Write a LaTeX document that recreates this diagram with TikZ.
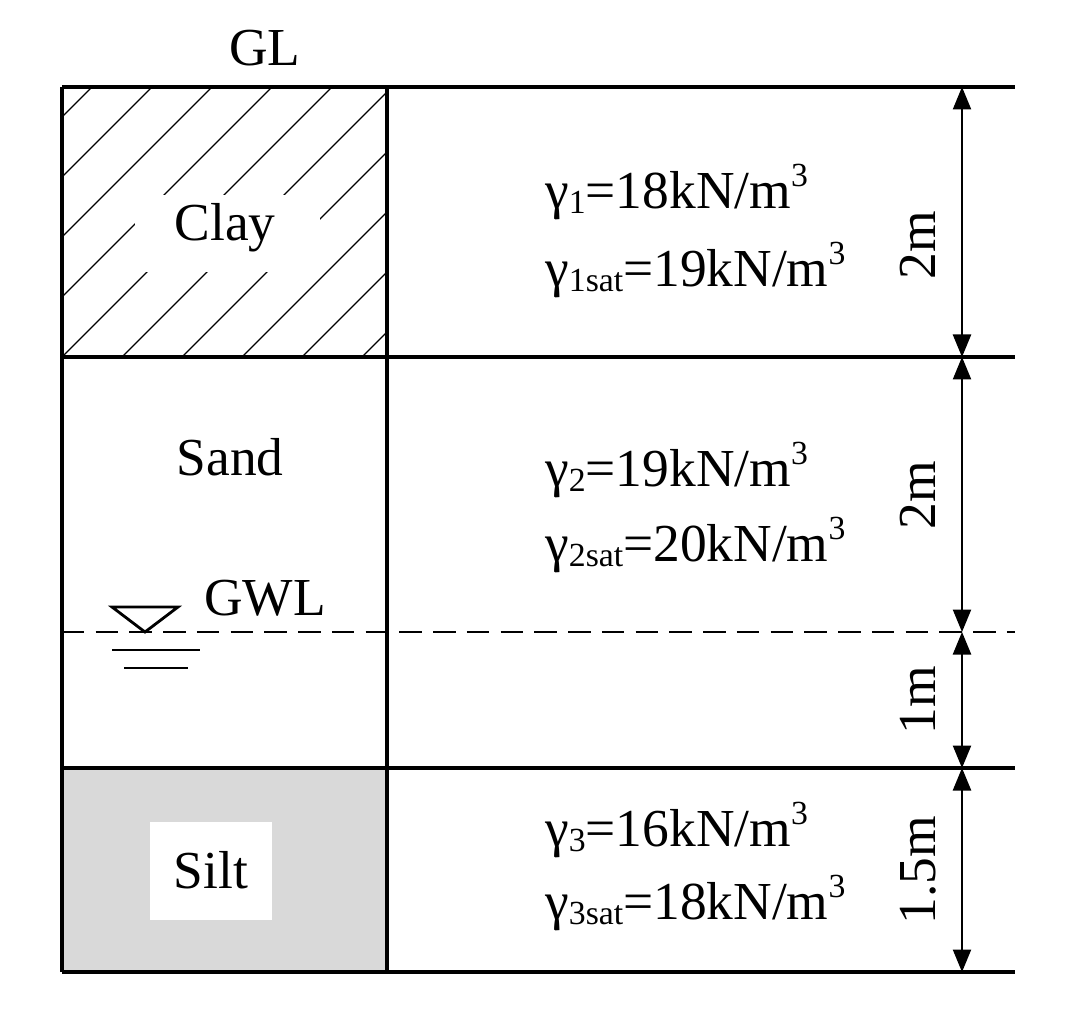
\documentclass[tikz,border=0pt]{standalone}
\usepackage{fontspec}
\setmainfont{Liberation Serif}
\usetikzlibrary{arrows.meta}
\newcommand{\sbx}[1]{\raisebox{-0.2ex}{\fontsize{24}{26}\selectfont #1}}
\newcommand{\spx}[1]{\raisebox{0.9ex}{\fontsize{24}{26}\selectfont #1}}
\begin{document}
\begin{tikzpicture}[x=0.025cm,y=-0.025cm,
  lbl/.style={font=\fontsize{38}{44}\selectfont,inner sep=0},
  gam/.style={lbl,anchor=west},
  thick line/.style={line width=2.4pt},
  dim/.style={line width=1pt,{Triangle[length=16pt,width=13pt]}-{Triangle[length=16pt,width=13pt]}}]
\useasboundingbox (0,0) rectangle (1080,1017);
\fill[gray!30] (62,768) rectangle (387,972);
\fill[white] (150,822) rectangle (272,920);
\begin{scope}
\clip (62,87) rectangle (387,357);
\foreach \i in {-300,-240,...,420} \draw[line width=1pt] (62+\i,357) -- (62+\i+270,87);
\end{scope}
\fill[white] (135,195) rectangle (320,272);
\draw[thick line] (62,87) -- (1015,87);
\draw[thick line] (62,357) -- (1015,357);
\draw[thick line] (62,768) -- (1015,768);
\draw[thick line] (62,972) -- (1015,972);
\draw[thick line] (62,87) -- (62,972);
\draw[thick line] (387,87) -- (387,972);
\draw[line width=1.8pt,dash pattern=on 16pt off 8pt] (62,632) -- (1015,632);
\coordinate (d0) at (962,87); \coordinate (d1) at (962,357);
\coordinate (d2) at (962,632); \coordinate (d3) at (962,768); \coordinate (d4) at (962,972);
\draw[dim] (d0) -- (d1); \draw[dim] (d1) -- (d2); \draw[dim] (d2) -- (d3); \draw[dim] (d3) -- (d4);
\node[lbl,rotate=90] (m1) at (918,245) {2m};
\node[lbl,rotate=90] (m2) at (918,495) {2m};
\node[lbl,rotate=90] (m3) at (918,700) {1m};
\node[lbl,rotate=90] (m4) at (918,870) {1.5m};
\draw[line width=2pt] (112,607) -- (178,607) -- (145,632) -- cycle;
\draw[line width=1.5pt] (112,650) -- (200,650);
\draw[line width=1.5pt] (124,668) -- (188,668);
\node[lbl] (gwl) at (265,598) {GWL};
\node[lbl] (gl) at (265,48) {GL};
\node[lbl] (clay) at (225,228) {Clay};
\node[lbl] (sand) at (230,457) {Sand};
\node[lbl] (silt) at (211,870) {Silt};
\node[gam] (g1) at (545,192) {γ\sbx{1}=18kN/m\spx{3}};
\node[gam] (g1s) at (545,270) {γ\sbx{1sat}=19kN/m\spx{3}};
\node[gam] (g2) at (545,470) {γ\sbx{2}=19kN/m\spx{3}};
\node[gam] (g2s) at (545,545) {γ\sbx{2sat}=20kN/m\spx{3}};
\node[gam] (g3) at (545,830) {γ\sbx{3}=16kN/m\spx{3}};
\node[gam] (g3s) at (545,903) {γ\sbx{3sat}=18kN/m\spx{3}};
\end{tikzpicture}
\end{document}
